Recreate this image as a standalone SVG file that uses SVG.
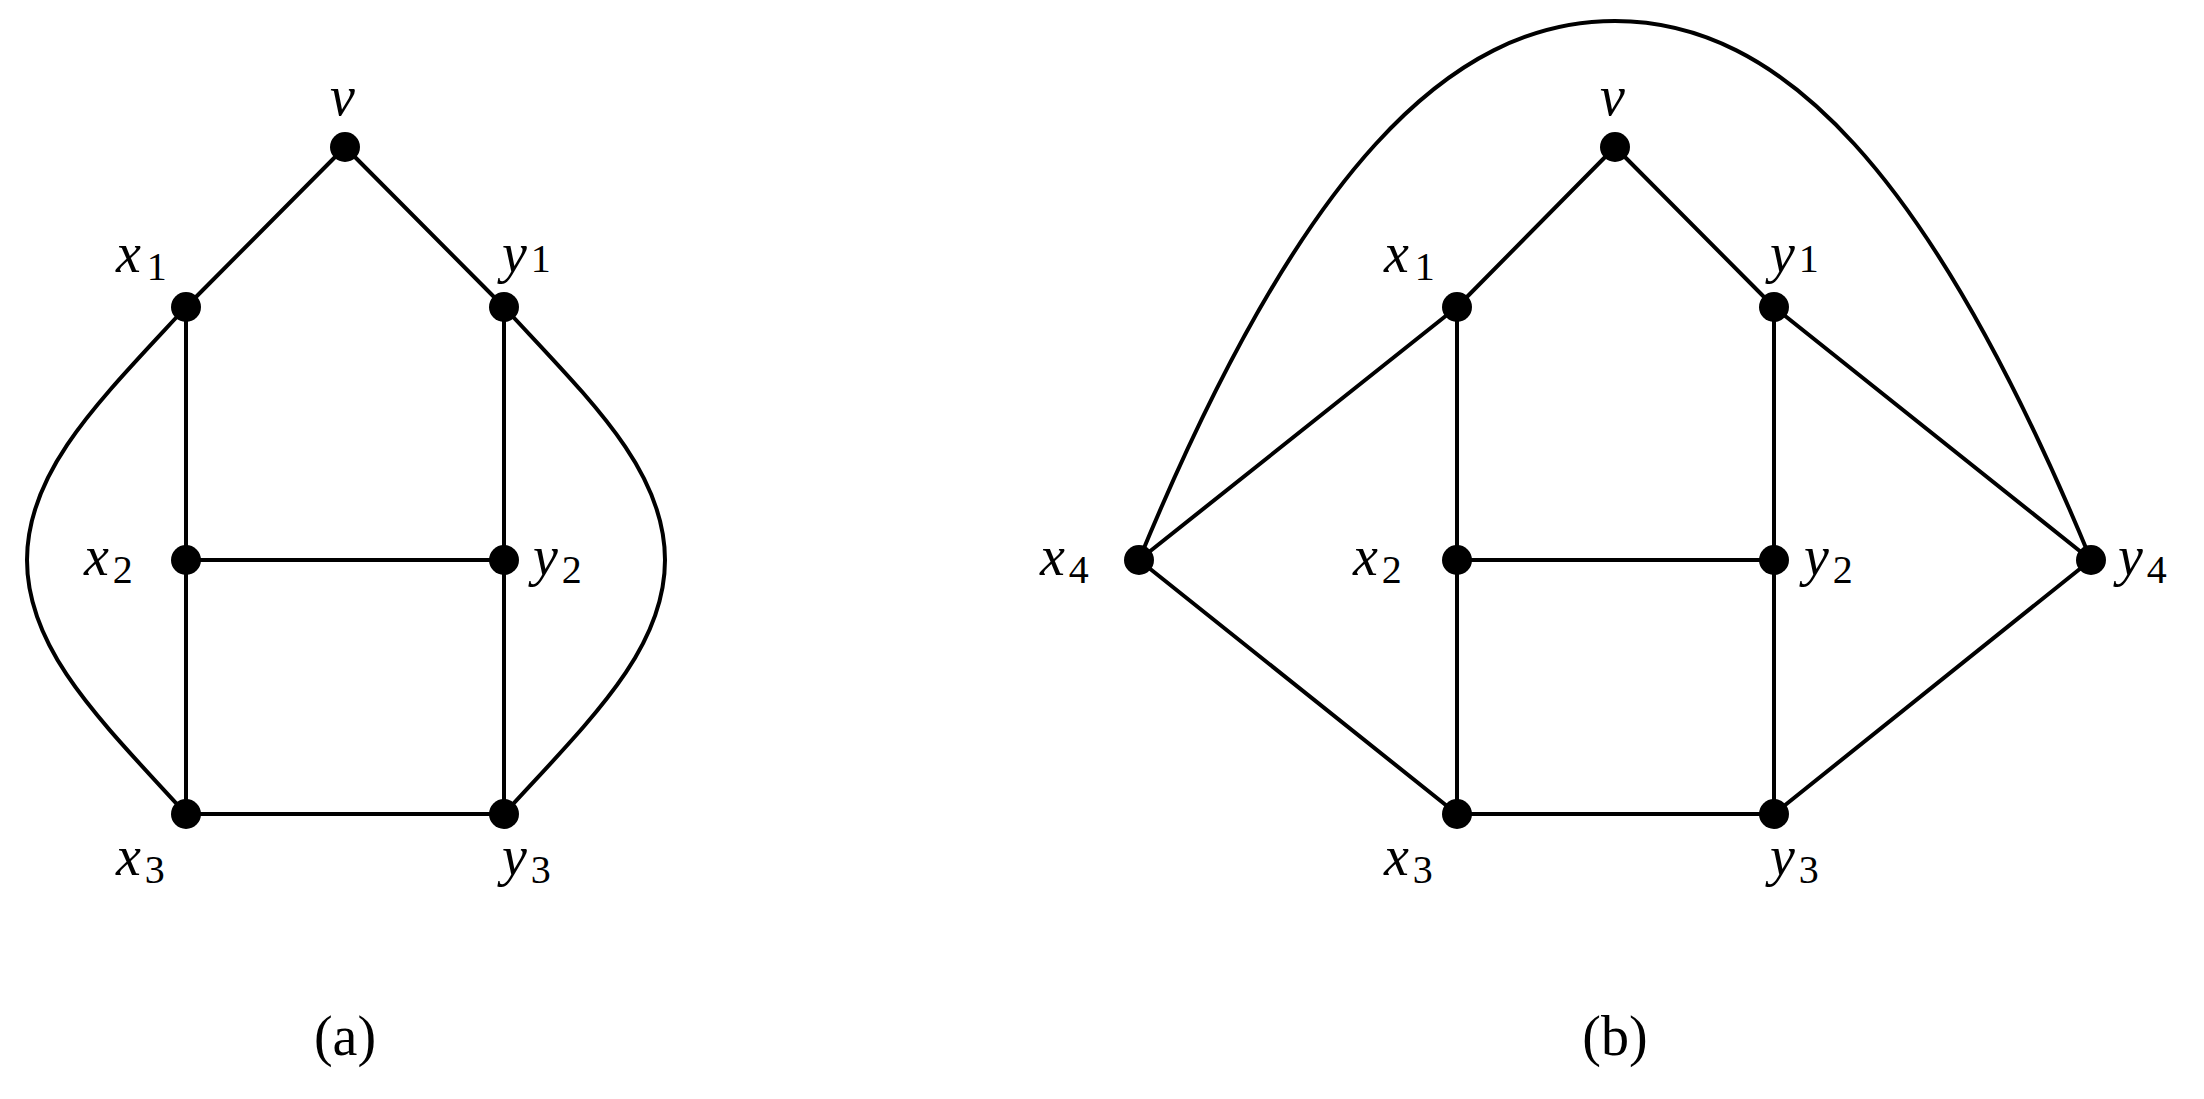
<svg xmlns="http://www.w3.org/2000/svg" width="2204" height="1099" viewBox="0 0 2204 1099">
<style>
.e{stroke:#000;stroke-width:4;fill:none}
.n{fill:#000}
text{font-family:"Liberation Serif",serif;font-size:56px;font-style:italic}
.s{font-style:normal;font-size:40px}
.c{font-style:normal;font-size:56px}
</style>
<rect width="2204" height="1099" fill="#fff"/>
<g id="connectors">
<path class="e" d="M345,147 L186,307 M345,147 L504,307 M186,307 L186,814 M504,307 L504,814 M186,560 L504,560 M186,814 L504,814"/>
<path class="e" d="M186,307 C100,400 27,470 27,560 C27,650 100,720 186,814"/>
<path class="e" d="M504,307 C590,400 665,470 665,560 C665,650 590,720 504,814"/>
<path class="e" d="M1615,147 L1457,307 M1615,147 L1774,307 M1457,307 L1457,814 M1774,307 L1774,814 M1457,560 L1774,560 M1457,814 L1774,814 M1139,560 L1457,307 M1139,560 L1457,814 M2091,560 L1774,307 M2091,560 L1774,814"/>
<path class="e" d="M1139,560 C1300,170 1450,21 1615,21 C1780,21 1930,170 2091,560"/>
</g>
<g id="a">
<g id="a-v"><circle class="n" cx="345" cy="147" r="15"/><text x="330" y="115">v</text></g>
<g id="a-x1"><circle class="n" cx="186" cy="307" r="15"/><text x="116" y="272">x<tspan class="s" dx="6" dy="8">1</tspan></text></g>
<g id="a-y1"><circle class="n" cx="504" cy="307" r="15"/><text x="502" y="272">y<tspan class="s" dx="4" dy="0">1</tspan></text></g>
<g id="a-x2"><circle class="n" cx="186" cy="560" r="15"/><text x="84" y="575">x<tspan class="s" dx="4" dy="8">2</tspan></text></g>
<g id="a-y2"><circle class="n" cx="504" cy="560" r="15"/><text x="533" y="575">y<tspan class="s" dx="4" dy="8">2</tspan></text></g>
<g id="a-x3"><circle class="n" cx="186" cy="814" r="15"/><text x="116" y="875">x<tspan class="s" dx="4" dy="8">3</tspan></text></g>
<g id="a-y3"><circle class="n" cx="504" cy="814" r="15"/><text x="502" y="875">y<tspan class="s" dx="4" dy="8">3</tspan></text></g>
<text class="c" x="345" y="1055" text-anchor="middle">(a)</text>
</g>
<g id="b">
<g id="b-v"><circle class="n" cx="1615" cy="147" r="15"/><text x="1600" y="115">v</text></g>
<g id="b-x1"><circle class="n" cx="1457" cy="307" r="15"/><text x="1384" y="272">x<tspan class="s" dx="6" dy="8">1</tspan></text></g>
<g id="b-y1"><circle class="n" cx="1774" cy="307" r="15"/><text x="1770" y="272">y<tspan class="s" dx="4" dy="0">1</tspan></text></g>
<g id="b-x2"><circle class="n" cx="1457" cy="560" r="15"/><text x="1353" y="575">x<tspan class="s" dx="4" dy="8">2</tspan></text></g>
<g id="b-y2"><circle class="n" cx="1774" cy="560" r="15"/><text x="1804" y="575">y<tspan class="s" dx="4" dy="8">2</tspan></text></g>
<g id="b-x3"><circle class="n" cx="1457" cy="814" r="15"/><text x="1384" y="875">x<tspan class="s" dx="4" dy="8">3</tspan></text></g>
<g id="b-y3"><circle class="n" cx="1774" cy="814" r="15"/><text x="1770" y="875">y<tspan class="s" dx="4" dy="8">3</tspan></text></g>
<g id="b-x4"><circle class="n" cx="1139" cy="560" r="15"/><text x="1040" y="575">x<tspan class="s" dx="4" dy="8">4</tspan></text></g>
<g id="b-y4"><circle class="n" cx="2091" cy="560" r="15"/><text x="2118" y="575">y<tspan class="s" dx="4" dy="8">4</tspan></text></g>
<text class="c" x="1615" y="1055" text-anchor="middle">(b)</text>
</g>
</svg>
